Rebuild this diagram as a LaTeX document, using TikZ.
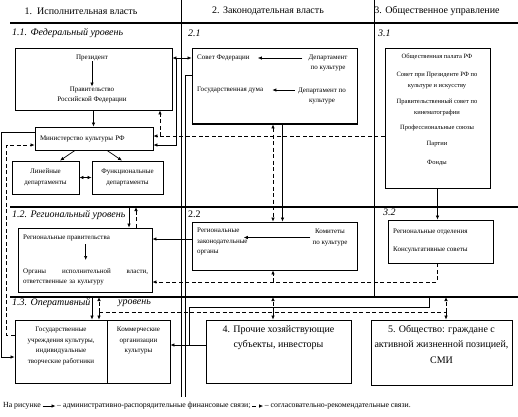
\documentclass[tikz,border=0pt]{standalone}
\usepackage{fontspec}
\setmainfont{Liberation Serif}
\usetikzlibrary{arrows.meta,positioning}
\begin{document}
\begin{tikzpicture}[x=1pt,y=-1pt,
        box/.style={draw,line width=0.8pt,inner sep=0pt},
        tx/.style={font=\fontsize{7}{10.5}\selectfont,align=center,inner sep=0pt},
        sm/.style={tx,font=\fontsize{6.5}{10.5}\selectfont},
        big/.style={font=\fontsize{10}{15.5}\selectfont,align=center,inner sep=0pt},
        head/.style={font=\fontsize{10}{12}\selectfont,inner sep=0pt},
        lvl/.style={font=\itshape\fontsize{10}{12}\selectfont,inner sep=0pt,anchor=west},
        lgd/.style={font=\fontsize{7.8}{9}\selectfont,inner sep=0pt,anchor=west},
        sep/.style={line width=1.2pt},
        ln/.style={line width=0.7pt},
        adm/.style={-{Latex[length=4pt,width=3.5pt]},line width=0.7pt},
        rec/.style={adm,dash pattern=on 4pt off 2.5pt},
        both/.style={{Latex[length=4pt,width=3.5pt]}-{Latex[length=4pt,width=3.5pt]},line width=0.7pt}]
    \useasboundingbox (0,0) rectangle (518,416);

    \draw[sep] (10,23) -- (518,23);
    \draw[sep] (10,207) -- (518,207);
    \draw[sep] (10,297) -- (518,297);
    \draw[line width=1pt] (181,0) -- (181,397);
    \draw[line width=1pt] (374,0) -- (374,297);

    \node[head] (h1) at (81,11) {1.\ \ Исполнительная власть};
    \node[head] (h2) at (268,11) {2. Законодательная власть};
    \node[head] (h3) at (437,11) {3. Общественное управление};

    \node[lvl] (l11) at (12,33) {1.1. Федеральный уровень};
    \node[lvl] (l21) at (188,33) {2.1};
    \node[lvl] (l31) at (378,33) {3.1};
    \node[lvl] (l12) at (12,215) {1.2. Региональный уровень};
    \node[lvl,font=\fontsize{10}{12}\selectfont] (l22) at (188,214) {2.2};
    \node[lvl] (l32) at (383,212) {3.2};
    \node[lvl] (l13) at (12,303) {1.3. Оперативный};
    \node[lvl] (l13b) at (118,303) {уровень};

    \node[box,minimum width=157pt,minimum height=62pt] (pres) at (93.5,79) {};
    \node[tx] (prez) at (92,58) {Президент};
    \node[tx] (gov) at (92,95) {Правительство\\Российской Федерации};
    \draw[adm] (prez) -- (gov);

    \node[box,tx,minimum width=118pt,minimum height=23pt,text width=108pt,align=left] (min) at (94,138.5) {Министерство культуры РФ};
    \node[box,tx,minimum width=67pt,minimum height=33pt] (lin) at (45.5,177.5) {Линейные\\департаменты};
    \node[box,tx,minimum width=71pt,minimum height=33pt] (fun) at (127.5,177.5) {Функциональные\\департаменты};

    \node[box,minimum width=165pt,minimum height=76pt] (leg) at (274.5,86) {};
    \draw[line width=2pt] (leg.south west) -- (leg.south east);
    \node[tx,anchor=west] (sf) at (197,58) {Совет Федерации};
    \node[tx] (dep1) at (328,63) {Департамент\\по культуре};
    \draw[adm,shorten <=6pt,shorten >=8pt] (dep1.west |- sf.east) -- (sf.east);
    \node[tx,anchor=west] (gd) at (197,90) {Государственная дума};
    \node[tx] (dep2) at (322,96) {Департамент по\\культуре};
    \draw[adm,shorten <=3pt,shorten >=9pt] (dep2.west |- gd.east) -- (gd.east);

    \node[box,minimum width=105pt,minimum height=140pt] (pub) at (437.5,118) {};
    \node[sm] (pb1) at (437,57) {Общественная палата РФ};
    \node[sm] (pb2) at (437,80.5) {Совет при Президенте РФ по\\культуре и искусству};
    \node[sm] (pb3) at (437,107.5) {Правительственный совет по\\кинематографии};
    \node[sm] (pb4) at (437,128) {Профессиональные союзы};
    \node[sm] (pb5) at (437,144) {Партии};
    \node[sm] (pb6) at (437,163) {Фонды};

    \node[box,minimum width=134pt,minimum height=64pt] (rgov) at (85,260) {};
    \node[tx,anchor=west] (rg1) at (23,238) {Региональные правительства};
    \node[tx,text width=125pt,align=left,anchor=north west] (rg2) at (23,268) {Органы \hfill исполнительной \hfill власти,\\ответственные за культуру};
    \draw[adm,shorten <=3pt,shorten >=8pt] (rg1.south -| rg2.north) -- (rg2.north);

    \node[box,minimum width=165pt,minimum height=48pt] (rleg) at (274.5,246) {};
    \node[tx,align=left,anchor=north west] (rl1) at (197,228) {Региональные\\законодательные\\органы};
    \node[tx] (kom) at (330,237.5) {Комитеты\\по культуре};
    \draw[adm,shorten <=2pt,shorten >=-4pt] (kom.west) -- (kom.west -| rl1.east);

    \node[box,minimum width=105pt,minimum height=43pt] (rpub) at (440.5,241.5) {};
    \node[tx,anchor=west] (ro1) at (393,232) {Региональные отделения};
    \node[tx,anchor=west] (ro2) at (393,250) {Консультативные советы};

    \node[box,minimum width=92pt,minimum height=63pt] (gos) at (61,351.5) {};
    \node[box,minimum width=63pt,minimum height=63pt] (com) at (138.5,351.5) {};
    \node[tx,anchor=north] (gos1) at (61,327) {Государственные\\учреждения культуры,\\индивидуальные\\творческие работники};
    \node[tx,anchor=north] (com1) at (138.5,327) {Коммерческие\\организации\\культуры};

    \node[box,minimum width=145pt,minimum height=63pt] (biz) at (278.5,351.5) {};
    \node[big,anchor=north] (biz1) at (278.5,325) {4. Прочие хозяйствующие\\субъекты, инвесторы};
    \node[box,minimum width=141pt,minimum height=65pt] (soc) at (441.5,352.5) {};
    \node[big,anchor=north] (soc1) at (441.5,325) {5. Общество: граждане с\\активной жизненной позицией,\\СМИ};

    \draw[adm] (pres.south) -- (pres.south |- min.north);
    \coordinate (m1) at ([yshift=2.5pt]min.east);
    \coordinate (m2) at ([yshift=-6.5pt]min.east);
    \coordinate (j1) at (160,136);
    \draw[rec] (pub.west |- m1) -- (m1);
    \draw[rec] (j1) -- (j1 |- pres.south);
    \coordinate (p1) at ([yshift=21pt]pres.east);
    \draw[both] (p1) -- (p1 -| leg.west);
    \coordinate (j2) at (176,58);
    \draw[adm] (j2) |- (m2);
    \coordinate (p2) at ([yshift=11pt]leg.west);
    \coordinate (e1) at (185,397);
    \draw[ln] (p2) -| (e1);
    \draw[adm] ([xshift=-19pt]min.south) -- ([xshift=14.5pt]lin.north);
    \draw[adm] ([xshift=13pt]min.south) -- ([xshift=-5.5pt]fun.north);
    \draw[both] (lin) -- (fun);

    \coordinate (s1) at (129,207);
    \coordinate (s2) at (136,207);
    \draw[adm] (s1) -- (s1 |- rgov.north);
    \draw[rec] (s2 |- rgov.north) -- (s2);
    \draw[rec,both] ([xshift=-1.5pt]leg.south) -- ([xshift=-1.5pt]rleg.north);
    \draw[adm] ([xshift=8pt]leg.south) -- ([xshift=8pt]rleg.north);
    \draw[adm] (pub.south) -- (pub.south |- rpub.north);
    \draw[adm] ([yshift=7pt]rleg.west) -- ([yshift=7pt]rleg.west -| rgov.east);
    \coordinate (g1) at ([yshift=-22pt]rgov.east);
    \coordinate (j3) at (273,282);
    \draw[rec] ([xshift=-3.5pt]rpub.south) |- (g1);
    \draw[rec] (j3) -- (j3 |- rleg.south);

    \coordinate (s3) at (92,297);
    \draw[adm] (s3) -- (s3 |- gos.north);
    \coordinate (d1) at (99,312);
    \coordinate (d2) at (273,312);
    \coordinate (d3) at (446,312);
    \draw[ln,dash pattern=on 4pt off 2.5pt] (d1) -- (d3);
    \foreach \c/\b in {d1/gos,d2/biz,d3/soc} {
        \draw[rec] (\c) -- (\c |- s3);
        \draw[rec] (\c) -- (\c |- \b.north);
    }
    \coordinate (j4) at (429,297);
    \coordinate (j5) at (189,307);
    \coordinate (b1) at ([yshift=6.5pt]biz.west);
    \draw[ln] (j4) |- (j5) -- (j5 |- b1);
    \draw[adm] (b1) -- (b1 -| com.east);
    \draw[adm] ([yshift=6.5pt]min.west) -- ++(-33,0) |- ([yshift=-5.5pt]gos.west);
    \draw[rec] ([yshift=16.5pt]gos.west) -- ++(-8,0) |- ([yshift=-6.5pt]min.west);

    \node[lgd] (lg1) at (3,406) {На рисунке};
    \node[lgd,right=16pt of lg1] (lg2) {– административно-распорядительные финансовые связи;};
    \node[lgd,right=14pt of lg2] (lg3) {– согласовательно-рекомендательные связи.};
    \draw[adm,shorten <=1.5pt,shorten >=1.5pt] (lg1) -- (lg2);
    \draw[rec,shorten <=1.5pt,shorten >=1.5pt] (lg2) -- (lg3);
\end{tikzpicture}
\end{document}
